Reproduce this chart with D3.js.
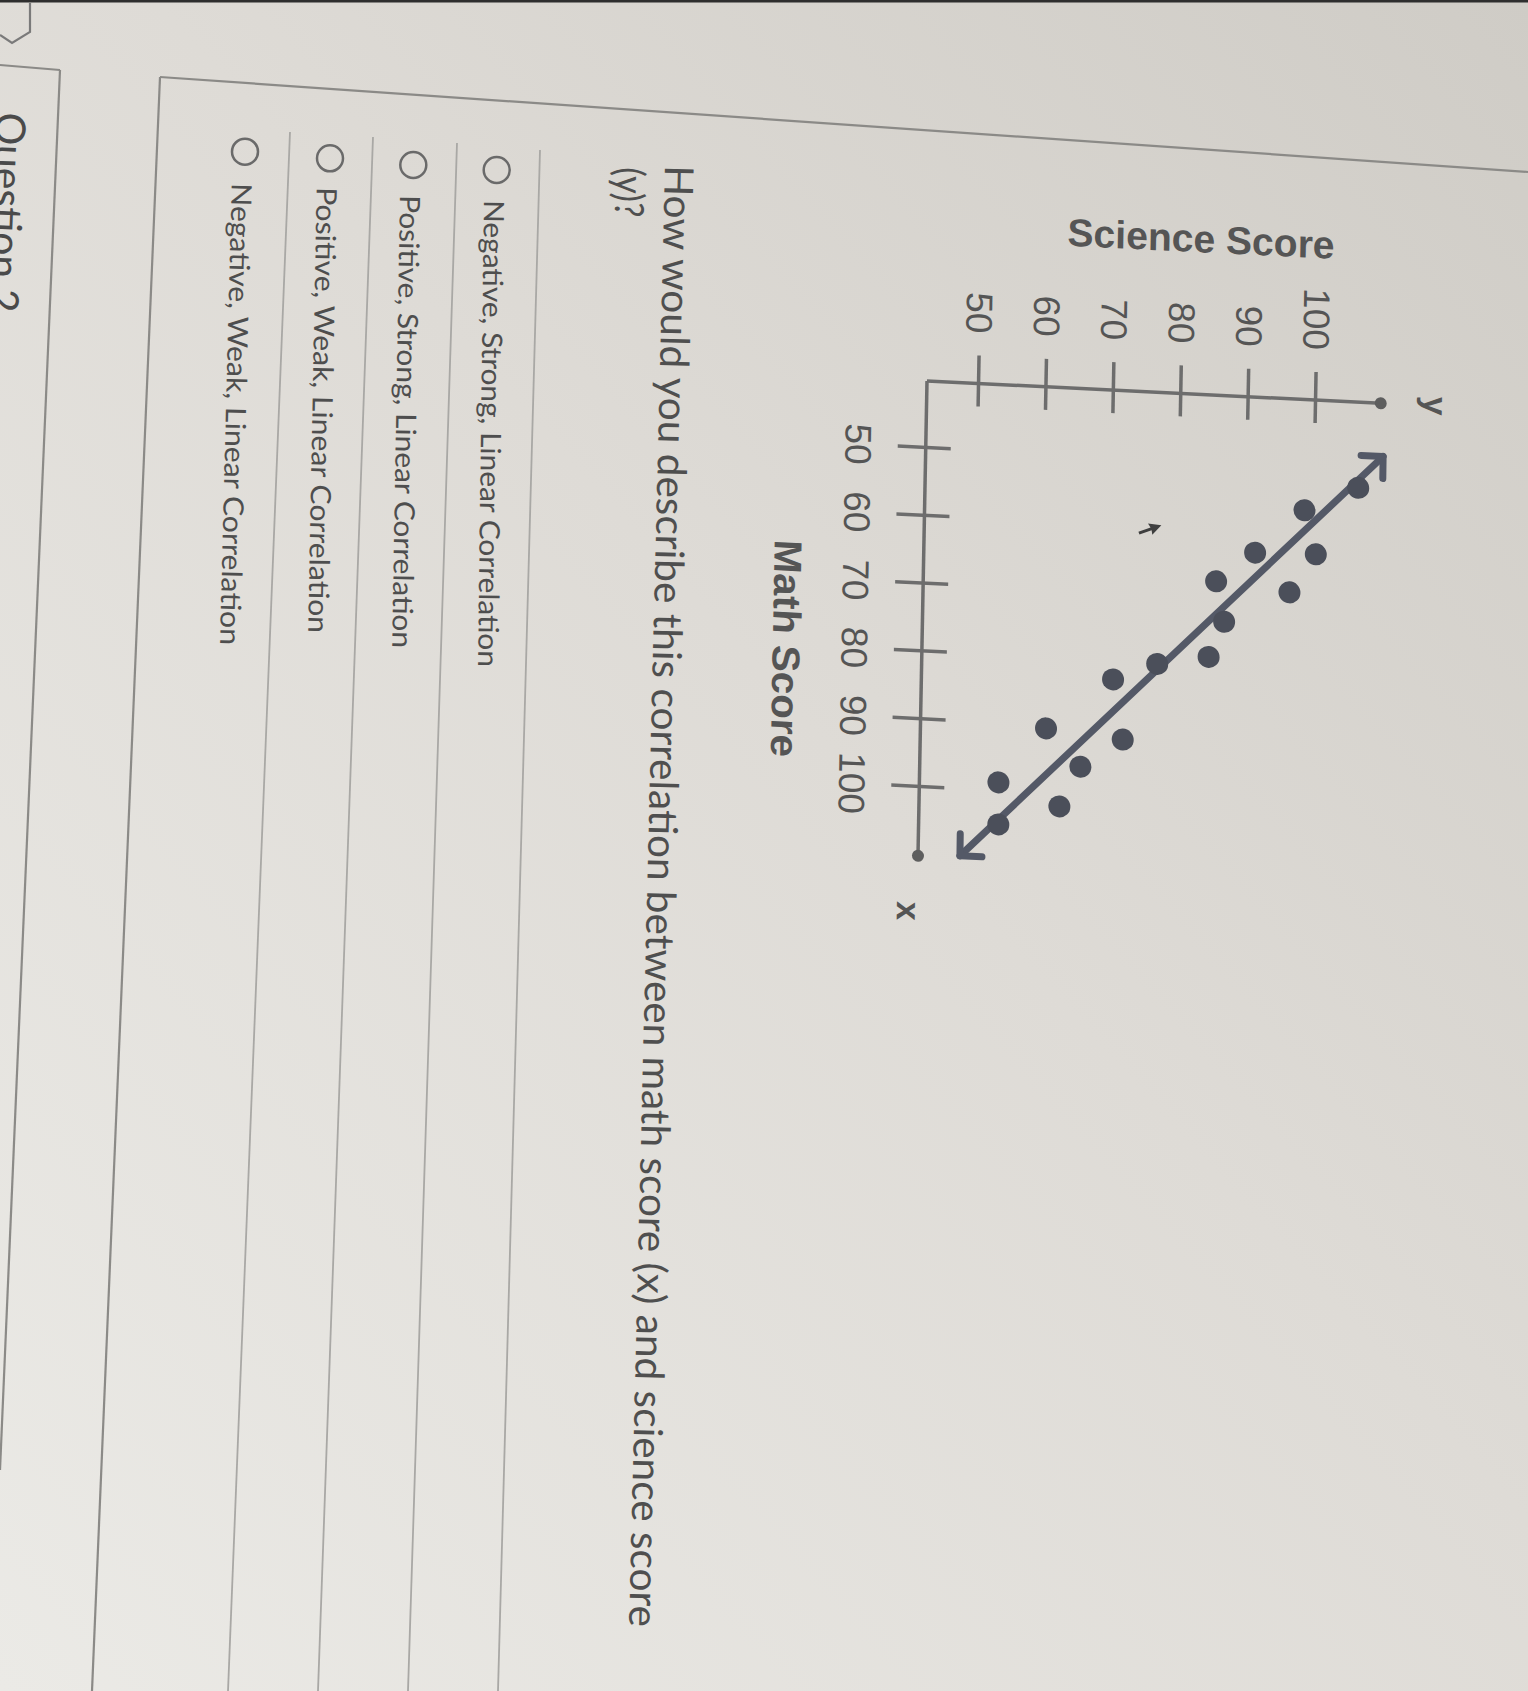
<!DOCTYPE html>
<html><head><meta charset="utf-8">
<script src="https://cdn.jsdelivr.net/npm/d3@7"></script>
<style>html,body{margin:0;padding:0;overflow:hidden;background:#dcd9d4}svg{display:block}</style>
</head><body>
<svg id="c" width="1528" height="1691"></svg>
<script>
// ---- data ----
const mathScores    = [52.9, 56.6, 63.0, 63.2, 68.8, 67.7, 73.6, 78.9, 80.3, 82.9, 91.7, 90.6, 96.0, 98.9, 102.0, 105.1];
const scienceScores = [106.5, 98.6, 100.4, 91.4, 96.6, 85.7, 87.0, 84.8, 77.2, 70.7, 72.3, 60.9, 66.1, 54.0, 63.1, 54.1];
const trendMath     = [48.1, 110.0];
const trendScience  = [110.1, 48.5];
const xTicks = [50, 60, 70, 80, 90, 100];
const yTicks = [50, 60, 70, 80, 90, 100];
const xAxisExtent = [40.27, 110.3];
const yAxisExtent = [42.28, 109.6];
const xAxisTitle = "Math Score";
const yAxisTitle = "Science Score";
const questionLines = ["How would you describe this correlation between math score (x) and science score", "(y)?"];
const options = ["Negative, Strong, Linear Correlation", "Positive, Strong, Linear Correlation",
                 "Positive, Weak, Linear Correlation", "Negative, Weak, Linear Correlation"];
const panelTitle = "Question 2";

// ---- page ----
const svg = d3.select("#c");
const defs = svg.append("defs");
const grad = defs.append("linearGradient").attr("id","bg").attr("x1",1).attr("y1",0).attr("x2",0).attr("y2",1);
grad.append("stop").attr("offset",0).attr("stop-color","#cfccc6");
grad.append("stop").attr("offset",0.45).attr("stop-color","#dedbd6");
grad.append("stop").attr("offset",1).attr("stop-color","#ebeae6");
svg.append("rect").attr("width",1528).attr("height",1691).attr("fill","url(#bg)");
svg.append("rect").attr("width",1528).attr("height",2.5).attr("fill","#2e2e2e");

const lineColor = "#a9a8a5";
function seg(x1,y1,x2,y2,col,w){svg.append("line").attr("x1",x1).attr("y1",y1).attr("x2",x2).attr("y2",y2).attr("stroke",col).attr("stroke-width",w);}
// card borders
seg(160,77,1528,172,"#8b8a87",2.2);
seg(160,77,92,1691,"#8b8a87",2.2);
// separators between rows
seg(540,150,498,1691,lineColor,1.8);
seg(457,143,408,1691,lineColor,1.8);
seg(373,137,318,1691,lineColor,1.8);
seg(290,132,228,1691,lineColor,1.8);
// question panel at the left
seg(0,65,60,70,"#8b8a87",2.2);
seg(60,70,0,1470,"#8b8a87",2.2);
svg.append("path").attr("d","M30,3 L30,32 L12,43 L0,35").attr("fill","none").attr("stroke","#7a7a7a").attr("stroke-width",2.2);

const sans = "Lato, 'Open Sans', sans-serif";
function rotText(txt,x,y,ang,size,len,col,weight){
  const t = svg.append("text").attr("transform",`translate(${x},${y}) rotate(${ang})`)
    .attr("font-family",sans).attr("font-size",size).attr("fill",col).text(txt);
  if(weight) t.attr("font-weight",weight);
  if(len) t.attr("textLength",len).attr("lengthAdjust","spacingAndGlyphs");
  return t;
}
rotText(panelTitle,-4,112,92.3,42,200,"#4a4a4a");

// question
rotText(questionLines[0],665,165,91.41,40,1462,"#4f4f4f");
rotText(questionLines[1],616,167,91.41,40,50,"#4f4f4f");

// options
const optLayout = [
  {bx:484, by:200, ang:90.74, len:467, cx:496.7, cy:170},
  {bx:400, by:195, ang:91.0,  len:453, cx:413.3, cy:165},
  {bx:316.7, by:187, ang:91.1, len:446, cx:330, cy:158.3},
  {bx:231.7, by:183, ang:91.45, len:462, cx:245, cy:151.7}
];
options.forEach((o,i)=>{
  const L = optLayout[i];
  svg.append("circle").attr("cx",L.cx).attr("cy",L.cy).attr("r",13)
     .attr("fill","none").attr("stroke","#6a6a6a").attr("stroke-width",2.5);
  rotText(o,L.bx,L.by,L.ang,28,L.len,"#4e4e4e");
});

// ---- chart (drawn in its own frame, then turned as in the photo) ----
const PXU = 6.78, PYU = 6.74;
const xScale = d3.scaleLinear().domain(xAxisExtent).range([0,(xAxisExtent[1]-xAxisExtent[0])*PXU]);
const yScale = d3.scaleLinear().domain(yAxisExtent).range([0,-(yAxisExtent[1]-yAxisExtent[0])*PYU]);
const chart = svg.append("g").attr("transform","matrix(-0.019,1,-1,-0.049,927,381)");
const axisCol = "#6d6d6d", txtCol = "#555555";
const font = "'Liberation Sans', Arial, sans-serif";

// axis lines
chart.append("line").attr("x1",xScale(xAxisExtent[0])).attr("x2",xScale(xAxisExtent[1]))
  .attr("y1",yScale(yAxisExtent[0])).attr("y2",yScale(yAxisExtent[0])).attr("stroke",axisCol).attr("stroke-width",3.5);
chart.append("line").attr("x1",xScale(xAxisExtent[0])).attr("x2",xScale(xAxisExtent[0]))
  .attr("y1",yScale(yAxisExtent[0])).attr("y2",yScale(yAxisExtent[1])).attr("stroke",axisCol).attr("stroke-width",3.5);
chart.append("circle").attr("cx",xScale(xAxisExtent[1])).attr("cy",yScale(yAxisExtent[0])).attr("r",6).attr("fill","#5e5e5e");
chart.append("circle").attr("cx",xScale(xAxisExtent[0])).attr("cy",yScale(yAxisExtent[1])).attr("r",6).attr("fill","#5e5e5e");

// x axis ticks
const gx = chart.append("g").attr("transform",`translate(0,${yScale(yAxisExtent[0])})`)
  .call(d3.axisBottom(xScale).tickValues(xTicks).tickSize(0).tickPadding(0));
gx.select(".domain").remove();
gx.attr("font-family",font).attr("font-size",37);
gx.selectAll(".tick line").attr("y1",-25).attr("y2",28).attr("stroke",axisCol).attr("stroke-width",3.5);
gx.selectAll(".tick text").attr("y",67).attr("dy","0.36em").attr("fill",txtCol);

// y axis ticks
const gy = chart.append("g").attr("transform",`translate(${xScale(xAxisExtent[0])},0)`)
  .call(d3.axisLeft(yScale).tickValues(yTicks).tickSize(0).tickPadding(0));
gy.select(".domain").remove();
gy.attr("font-family",font).attr("font-size",37);
gy.selectAll(".tick line").attr("x1",-28).attr("x2",23).attr("stroke",axisCol).attr("stroke-width",3.5);
gy.selectAll(".tick text").attr("x",-50).attr("dy","0.36em").attr("fill",txtCol);

// axis titles
chart.append("text").attr("x",xScale(80.7)).attr("y",149).attr("text-anchor","middle")
  .attr("font-family",font).attr("font-weight","bold").attr("font-size",39).attr("fill",txtCol)
  .attr("textLength",217).attr("lengthAdjust","spacingAndGlyphs").text(xAxisTitle);
chart.append("text").attr("transform",`translate(-142,${yScale(82.5)}) rotate(-90)`).attr("text-anchor","middle")
  .attr("font-family",font).attr("font-weight","bold").attr("font-size",39).attr("fill",txtCol)
  .attr("textLength",267).attr("lengthAdjust","spacingAndGlyphs").text(yAxisTitle);
chart.append("text").attr("x",xScale(118.5)).attr("y",yScale(41.1)).attr("dy","0.36em").attr("text-anchor","middle")
  .attr("font-family",font).attr("font-weight","bold").attr("font-size",34).attr("fill",txtCol).text("x");
chart.append("text").attr("x",xScale(xAxisExtent[0])).attr("y",yScale(117.5)).attr("dy","0.3em").attr("text-anchor","middle")
  .attr("font-family",font).attr("font-weight","bold").attr("font-size",34).attr("fill",txtCol).text("y");

// trend line with open arrowheads
const lineCol = "#545967";
const p0 = [xScale(trendMath[0]), yScale(trendScience[0])];
const p1 = [xScale(trendMath[1]), yScale(trendScience[1])];
chart.append("line").attr("x1",p0[0]).attr("y1",p0[1]).attr("x2",p1[0]).attr("y2",p1[1])
  .attr("stroke",lineCol).attr("stroke-width",7).attr("stroke-linecap","round");
function chevron(tip, from){
  const a = Math.atan2(tip[1]-from[1], tip[0]-from[0]);
  const L = 22, s = Math.PI*0.25;
  const q1 = [tip[0]-L*Math.cos(a-s), tip[1]-L*Math.sin(a-s)];
  const q2 = [tip[0]-L*Math.cos(a+s), tip[1]-L*Math.sin(a+s)];
  chart.append("path").attr("d",`M${q1}L${tip}L${q2}`).attr("fill","none")
    .attr("stroke",lineCol).attr("stroke-width",7).attr("stroke-linecap","round").attr("stroke-linejoin","round");
}
chevron(p0,p1); chevron(p1,p0);

// points
chart.selectAll("circle.pt").data(mathScores.map((m,i)=>[m,scienceScores[i]])).join("circle")
  .attr("class","pt").attr("cx",d=>xScale(d[0])).attr("cy",d=>yScale(d[1])).attr("r",11).attr("fill","#4b4f5a");

// small screen cursor seen in the photo
chart.append("path").attr("transform",`translate(${xScale(60.6)},${yScale(75.5)}) rotate(-22)`)
  .attr("d","M0,-14 L-6,-2 L-1.5,-3 L-1.5,10 L1.5,10 L1.5,-3 L6,-2 Z").attr("fill","#3f3f3f");
</script>
</body></html>
